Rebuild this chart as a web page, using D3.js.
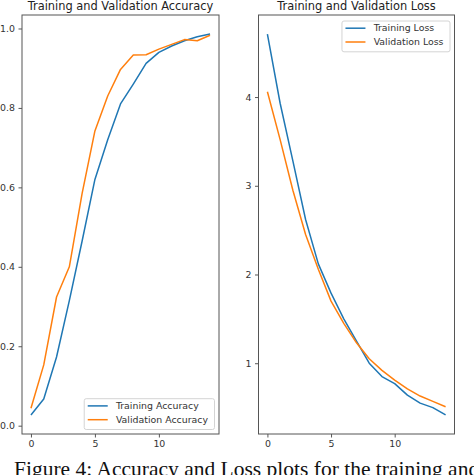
<!DOCTYPE html>
<html>
<head>
<meta charset="utf-8">
<script src="https://cdn.jsdelivr.net/npm/d3@7"></script>
<style>
body { margin: 0; background: #fff; }
svg { display: block; }
</style>
</head>
<body>
<svg id="chart" width="474" height="475"></svg>
<script>
// values
var epochs = [0, 1, 2, 3, 4, 5, 6, 7, 8, 9, 10, 11, 12, 13, 14];
var trainAcc = [0.027, 0.067, 0.173, 0.315, 0.465, 0.62, 0.72, 0.81, 0.86, 0.912, 0.94, 0.956, 0.969, 0.979, 0.986];
var valAcc = [0.044, 0.153, 0.324, 0.40, 0.585, 0.742, 0.83, 0.897, 0.933, 0.934, 0.948, 0.96, 0.972, 0.969, 0.983];
var trainLoss = [4.71, 3.93, 3.28, 2.62, 2.12, 1.79, 1.50, 1.25, 1.00, 0.85, 0.77, 0.64, 0.55, 0.50, 0.417];
var valLoss = [4.06, 3.52, 2.95, 2.45, 2.06, 1.70, 1.45, 1.23, 1.05, 0.92, 0.81, 0.71, 0.63, 0.57, 0.51];
var xTicks = [0, 5, 10];
var accTicks = [0.0, 0.2, 0.4, 0.6, 0.8, 1.0];
var lossTicks = [1, 2, 3, 4];
var caption = 'Figure 4: Accuracy and Loss plots for the training and';

var blue = '#1f77b4', orange = '#ff7f0e';
var font = 'DejaVu Sans';
var svg = d3.select('#chart');

// matplotlib-style 5% margins round the data
function padded(ext) {
    var m = (ext[1] - ext[0]) * 0.05;
    return [ext[0] - m, ext[1] + m];
}

function panel(opts) {
    var g = svg.append('g');
    var all = [].concat.apply([], opts.series.map(function(s) { return s.values; }));
    var x = d3.scaleLinear().domain(padded(d3.extent(epochs))).range([opts.left, opts.right]);
    var y = d3.scaleLinear().domain(padded(d3.extent(all))).range([opts.bottom, opts.top]);

    var xAxis = g.append('g')
        .attr('transform', 'translate(0,' + opts.bottom + ')')
        .call(d3.axisBottom(x).tickValues(xTicks).tickSize(3.5).tickPadding(3));
    var yAxis = g.append('g')
        .attr('transform', 'translate(' + opts.left + ',0)')
        .call(d3.axisLeft(y).tickValues(opts.yTicks).tickSize(3.5).tickPadding(3.5).tickFormat(opts.yFormat));
    [xAxis, yAxis].forEach(function(a) {
        a.select('.domain').remove();
        a.selectAll('line').attr('stroke', '#444').attr('stroke-width', 0.9);
        a.selectAll('text').attr('fill', '#333').attr('font-family', font).attr('font-size', '9.4px');
    });

    var line = d3.line()
        .x(function(d, i) { return x(epochs[i]); })
        .y(function(d) { return y(d); });
    opts.series.forEach(function(s) {
        g.append('path')
            .attr('d', line(s.values))
            .attr('fill', 'none')
            .attr('stroke', s.color)
            .attr('stroke-width', 1.5)
            .attr('stroke-linejoin', 'round');
    });

    g.append('rect')
        .attr('x', opts.left).attr('y', opts.top)
        .attr('width', opts.right - opts.left).attr('height', opts.bottom - opts.top)
        .attr('fill', 'none').attr('stroke', '#555').attr('stroke-width', 1);

    g.append('text')
        .attr('x', (opts.left + opts.right) / 2).attr('y', 10)
        .attr('text-anchor', 'middle')
        .attr('font-family', font).attr('font-size', '11.4px').attr('fill', '#222')
        .text(opts.title);

    // legend
    var lg = g.append('g');
    var box = lg.append('rect')
        .attr('rx', 2).attr('ry', 2)
        .attr('fill', '#fff').attr('fill-opacity', 0.85)
        .attr('stroke', '#d4d4d4').attr('stroke-width', 1);
    var rows = lg.selectAll('g.row').data(opts.series).enter().append('g').attr('class', 'row')
        .attr('transform', function(s, i) { return 'translate(0,' + (7.2 + i * 13.8) + ')'; });
    rows.append('line')
        .attr('x1', 3.5).attr('x2', 23.5)
        .attr('stroke', function(s) { return s.color; }).attr('stroke-width', 1.5);
    var labels = rows.append('text')
        .attr('x', 31.7).attr('dy', '0.35em')
        .attr('font-family', font).attr('font-size', '9.4px').attr('fill', '#333')
        .text(function(s) { return s.name; });
    var tw = 0;
    labels.each(function() { tw = Math.max(tw, this.getComputedTextLength()); });
    var bw = 31.7 + tw + 6.5, bh = 30.8;
    box.attr('width', bw).attr('height', bh);
    var lx = opts.right - 4.5 - bw;
    var ly = opts.legend === 'lower right' ? opts.bottom - 4.5 - bh : opts.top + 6;
    lg.attr('transform', 'translate(' + lx + ',' + ly + ')');
}

panel({
    left: 22, right: 219, top: 15, bottom: 434,
    title: 'Training and Validation Accuracy',
    yTicks: accTicks, yFormat: d3.format('.1f'),
    legend: 'lower right',
    series: [
        {name: 'Training Accuracy', values: trainAcc, color: blue},
        {name: 'Validation Accuracy', values: valAcc, color: orange}
    ]
});

panel({
    left: 258.5, right: 454.5, top: 15, bottom: 434,
    title: 'Training and Validation Loss',
    yTicks: lossTicks, yFormat: d3.format('d'),
    legend: 'upper right',
    series: [
        {name: 'Training Loss', values: trainLoss, color: blue},
        {name: 'Validation Loss', values: valLoss, color: orange}
    ]
});

svg.append('text')
    .attr('x', 14).attr('y', 476)
    .attr('font-family', 'Liberation Serif').attr('font-size', '21.5px').attr('fill', '#111')
    .text(caption);
</script>
</body>
</html>
